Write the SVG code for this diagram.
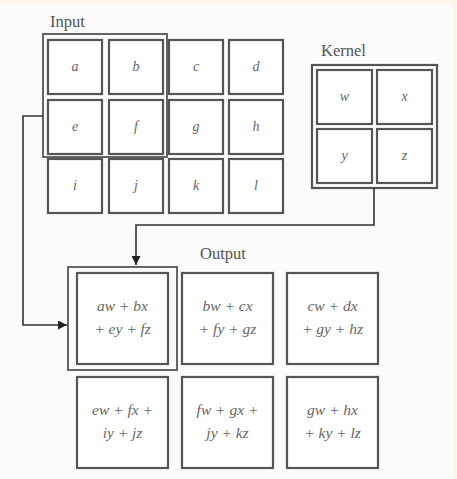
<svg xmlns="http://www.w3.org/2000/svg" width="457" height="479" viewBox="0 0 457 479">
<defs>
<style>
.cell{fill:#ffffff;stroke:#555;stroke-width:2.2}
.hl{fill:none;stroke:#555;stroke-width:1.8}
.v{font-family:"Liberation Serif","DejaVu Serif",serif;font-style:italic;font-size:14px;fill:#666;text-anchor:middle}
.e{font-family:"Liberation Serif","DejaVu Serif",serif;font-style:italic;font-size:15.5px;fill:#666;text-anchor:middle}
.t{font-family:"Liberation Serif","DejaVu Serif",serif;font-size:16.5px;fill:#555}
.c{fill:none;stroke:#333;stroke-width:1.6}
</style>
<marker id="ah" viewBox="0 0 10 10" refX="10" refY="5" markerWidth="9" markerHeight="9" markerUnits="userSpaceOnUse" orient="auto">
<path d="M0,0 L10,5 L0,10 z" fill="#222"/>
</marker>
</defs>
<rect x="0" y="0" width="457" height="479" fill="#fdf5ea"/>
<rect x="0" y="4" width="453" height="475" fill="#fbfbfb"/>

<g id="input">
<text class="t" x="50" y="27">Input</text>
<rect class="hl" x="43" y="34" width="124" height="123"/>
<g id="in-a"><rect class="cell" x="48" y="40" width="54" height="54"/><text class="v" x="75" y="71">a</text></g>
<g id="in-b"><rect class="cell" x="109" y="40" width="54" height="54"/><text class="v" x="136" y="71">b</text></g>
<g id="in-c"><rect class="cell" x="169" y="40" width="54" height="54"/><text class="v" x="196" y="71">c</text></g>
<g id="in-d"><rect class="cell" x="229" y="40" width="54" height="54"/><text class="v" x="256" y="71">d</text></g>
<g id="in-e"><rect class="cell" x="48" y="100" width="54" height="54"/><text class="v" x="75" y="131">e</text></g>
<g id="in-f"><rect class="cell" x="109" y="100" width="54" height="54"/><text class="v" x="136" y="131">f</text></g>
<g id="in-g"><rect class="cell" x="169" y="100" width="54" height="54"/><text class="v" x="196" y="131">g</text></g>
<g id="in-h"><rect class="cell" x="229" y="100" width="54" height="54"/><text class="v" x="256" y="131">h</text></g>
<g id="in-i"><rect class="cell" x="48" y="159" width="54" height="54"/><text class="v" x="75" y="190">i</text></g>
<g id="in-j"><rect class="cell" x="109" y="159" width="54" height="54"/><text class="v" x="136" y="190">j</text></g>
<g id="in-k"><rect class="cell" x="169" y="159" width="54" height="54"/><text class="v" x="196" y="190">k</text></g>
<g id="in-l"><rect class="cell" x="229" y="159" width="54" height="54"/><text class="v" x="256" y="190">l</text></g>
</g>

<g id="kernel">
<text class="t" x="321" y="56">Kernel</text>
<rect class="cell" x="312" y="65" width="125" height="123"/>
<g id="k-w"><rect class="cell" x="317" y="70" width="55" height="54"/><text class="v" x="344.5" y="101">w</text></g>
<g id="k-x"><rect class="cell" x="377" y="70" width="55" height="54"/><text class="v" x="404.5" y="101">x</text></g>
<g id="k-y"><rect class="cell" x="317" y="129" width="55" height="54"/><text class="v" x="344.5" y="160">y</text></g>
<g id="k-z"><rect class="cell" x="377" y="129" width="55" height="54"/><text class="v" x="404.5" y="160">z</text></g>
</g>

<g id="output">
<text class="t" x="200" y="259">Output</text>
<rect class="hl" x="68" y="267" width="109" height="103"/>
<g id="o1"><rect class="cell" x="77" y="273" width="91" height="91"/><text class="e" x="122.5" y="311">aw + bx</text><text class="e" x="122.5" y="334">+ ey + fz</text></g>
<g id="o2"><rect class="cell" x="182" y="273" width="91" height="91"/><text class="e" x="227.5" y="311">bw + cx</text><text class="e" x="227.5" y="334">+ fy + gz</text></g>
<g id="o3"><rect class="cell" x="287" y="273" width="91" height="91"/><text class="e" x="332.5" y="311">cw + dx</text><text class="e" x="332.5" y="334">+ gy + hz</text></g>
<g id="o4"><rect class="cell" x="77" y="377" width="91" height="91"/><text class="e" x="122.5" y="415">ew + fx +</text><text class="e" x="122.5" y="438">iy + jz</text></g>
<g id="o5"><rect class="cell" x="182" y="377" width="91" height="91"/><text class="e" x="227.5" y="415">fw + gx +</text><text class="e" x="227.5" y="438">jy + kz</text></g>
<g id="o6"><rect class="cell" x="287" y="377" width="91" height="91"/><text class="e" x="332.5" y="415">gw + hx</text><text class="e" x="332.5" y="438">+ ky + lz</text></g>
</g>

<g id="connectors">
<path class="c" d="M43,116 H23 V325 H67" marker-end="url(#ah)"/>
<path class="c" d="M374,188 V225 H136 V265" marker-end="url(#ah)"/>
</g>
</svg>
